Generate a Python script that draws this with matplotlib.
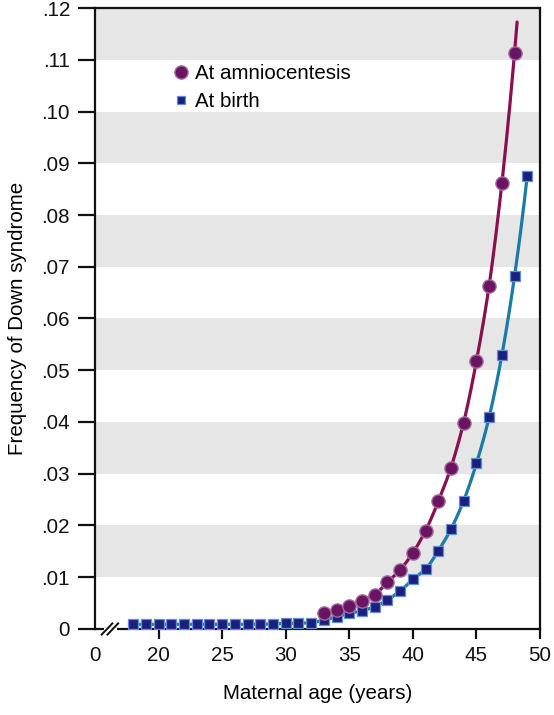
import numpy as np
import matplotlib
matplotlib.use("Agg")
import matplotlib.pyplot as plt
from matplotlib.lines import Line2D

plt.rcParams['font.family'] = ['Liberation Sans', 'DejaVu Sans']

# ---- data ----
birth_age = [18, 19, 20, 21, 22, 23, 24, 25, 26, 27, 28, 29, 30, 31, 32,
             33, 34, 35, 36, 37, 38, 39, 40, 41, 42, 43, 44, 45, 46, 47, 48, 49]
birth_freq = [0.0009, 0.0009, 0.0009, 0.0009, 0.0009, 0.0009, 0.0009, 0.0009,
              0.0009, 0.0009, 0.0009, 0.0010, 0.0011, 0.0011, 0.0012,
              0.0017, 0.0024, 0.0030, 0.0035, 0.0043, 0.0056, 0.0074, 0.0096,
              0.0115, 0.0151, 0.0193, 0.0248, 0.0320, 0.0409, 0.0529, 0.0682, 0.0876]
amnio_age = [33, 34, 35, 36, 37, 38, 39, 40, 41, 42, 43, 44, 45, 46, 47, 48]
amnio_freq = [0.0030, 0.0037, 0.0044, 0.0055, 0.0066, 0.0091, 0.0114, 0.0147,
              0.0190, 0.0247, 0.0312, 0.0399, 0.0518, 0.0663, 0.0861, 0.1114]
x_ticks = [15, 20, 25, 30, 35, 40, 45, 50]
x_ticklabels = ['0', '20', '25', '30', '35', '40', '45', '50']
y_ticks = [0, 0.01, 0.02, 0.03, 0.04, 0.05, 0.06, 0.07, 0.08, 0.09, 0.10, 0.11, 0.12]
y_ticklabels = ['0', '.01', '.02', '.03', '.04', '.05', '.06', '.07', '.08',
                '.09', '.10', '.11', '.12']
series_labels = ['At amniocentesis', 'At birth']

# ---- styles ----
amnio_line = '#8a0f4e'
amnio_face = '#6a1462'
amnio_edge = '#a06a9e'
birth_line = '#1a7ca6'
birth_face = '#1c1f7c'
birth_edge = '#5f8fd6'
band = '#e6e6e6'
fs = 14.8

fig = plt.figure(figsize=(5.54, 7.15), dpi=100)
ax = fig.add_axes([0.1715, 0.1203, 0.8032, 0.8685])

ax.set_xlim(15, 50)
ax.set_ylim(0, 0.12)

# alternating grey bands
for i in range(1, len(y_ticks) - 1, 2):
    ax.axhspan(y_ticks[i], y_ticks[i + 1], color=band, lw=0, zorder=0)


def smooth(xs, ys, ext=0.0):
    xs = np.asarray(xs, float)
    ly = np.log(np.asarray(ys, float))
    xx = np.linspace(xs[0], xs[-1] + ext, 400)
    yy = np.interp(xx, xs, ly)
    if ext > 0:
        slope = (ly[-1] - ly[-2]) / (xs[-1] - xs[-2])
        m = xx > xs[-1]
        yy[m] = ly[-1] + slope * (xx[m] - xs[-1])
    return xx, np.exp(yy)

bx, by = smooth(birth_age, birth_freq)
ax.plot(bx, by, color=birth_line, lw=2.3, zorder=2, solid_capstyle='round')
ax.plot(birth_age, birth_freq, ls='none', marker='s', ms=6.8, mfc=birth_face,
        mec=birth_edge, mew=0.9, zorder=3)

axx, ayy = smooth(amnio_age, amnio_freq, ext=0.2)
ax.plot(axx, ayy, color=amnio_line, lw=2.3, zorder=2, solid_capstyle='round')
ax.plot(amnio_age, amnio_freq, ls='none', marker='o', ms=9.5, mfc=amnio_face,
        mec=amnio_edge, mew=1.0, zorder=3)

# ticks
ax.set_yticks(y_ticks)
ax.set_yticklabels(y_ticklabels, fontsize=fs)
ax.set_xticks(x_ticks)
ax.set_xticklabels(x_ticklabels, fontsize=fs)
ax.tick_params(axis='y', length=12, width=1.6, pad=6, colors='#111111')
ax.tick_params(axis='x', length=7, width=1.6, pad=5, colors='#111111')
ax.xaxis.get_major_ticks()[0].tick1line.set_visible(False)

for s in ax.spines.values():
    s.set_linewidth(1.6)
    s.set_color('#111111')

# axis break marks
trans = ax.transAxes
for dx in (0.027, 0.040):
    ax.plot([dx - 0.012, dx + 0.012], [-0.009, 0.009], transform=trans,
            color='#111111', lw=1.4, clip_on=False, zorder=5)
ax.plot([0.022, 0.045], [0, 0], transform=trans, color='white', lw=2.2,
        clip_on=False, zorder=4)

ax.set_xlabel('Maternal age (years)', fontsize=fs, labelpad=14)
ax.set_ylabel('Frequency of Down syndrome', fontsize=fs, labelpad=10)

handles = [
    Line2D([], [], ls='none', marker='o', ms=9.5, mfc=amnio_face, mec=amnio_edge, mew=1.0),
    Line2D([], [], ls='none', marker='s', ms=6.0, mfc=birth_face, mec=birth_edge, mew=0.9),
]
ax.legend(handles, series_labels, loc='upper left', bbox_to_anchor=(0.137, 0.94),
          frameon=False, fontsize=fs, handlelength=0.6, handletextpad=0.42,
          labelspacing=0.45)

fig.savefig('out.png', dpi=100)
